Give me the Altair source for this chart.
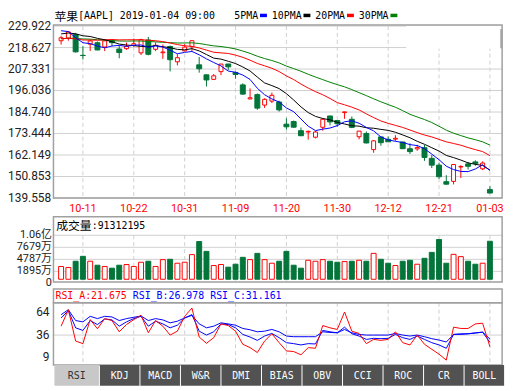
import altair as alt
import pandas as pd

# ---------------- data ----------------
dates = ["10-08","10-09","10-10","10-11","10-12","10-15","10-16","10-17","10-18","10-19",
         "10-22","10-23","10-24","10-25","10-26","10-29","10-30","10-31",
         "11-01","11-02","11-05","11-06","11-07","11-08","11-09","11-12","11-13","11-14","11-15","11-16",
         "11-19","11-20","11-21","11-23","11-26","11-27","11-28","11-29","11-30",
         "12-03","12-04","12-06","12-07","12-10","12-11","12-12","12-13","12-14","12-17","12-18",
         "12-19","12-20","12-21","12-24","12-26","12-27","12-28","12-31","01-02","01-03"]
axis_dates = ["10-11","10-22","10-31","11-09","11-20","11-30","12-12","12-21","01-03"]

opens = [222.21,223.64,225.46,214.52,220.42,221.16,218.93,222.30,217.86,218.06,
         219.79,215.83,222.60,217.71,215.90,219.19,211.15,216.88,219.05,209.55,
         204.30,201.92,205.97,209.98,205.55,199.00,191.63,193.90,188.39,190.50,
         190.00,178.37,179.73,174.94,174.24,171.51,176.73,182.66,180.29,184.46,
         180.95,171.76,173.49,165.00,171.66,170.40,170.49,169.00,165.45,165.38,
         166.00,160.40,156.86,148.15,148.30,155.84,157.50,158.53,154.89,143.98]
highs = [224.80,227.27,226.35,219.50,222.88,221.83,222.99,222.64,219.74,221.26,
         223.36,223.25,224.23,221.38,220.19,219.69,215.18,220.45,222.36,213.65,
         204.39,204.72,210.06,210.12,206.01,199.85,197.18,194.48,191.97,194.97,
         190.70,181.47,180.27,176.60,174.95,174.77,181.29,182.80,180.33,184.94,
         182.39,174.78,174.49,170.09,171.79,171.92,172.57,169.08,168.35,167.53,
         167.45,162.11,158.16,151.55,157.23,156.77,158.52,159.36,158.85,145.72]
lows = [220.20,222.25,216.05,212.32,216.84,217.27,216.76,219.34,213.00,217.43,
        218.94,214.70,214.54,216.75,212.67,206.09,209.27,216.62,216.81,205.43,
        198.17,201.69,204.13,206.75,202.25,193.79,191.45,185.93,186.90,189.46,
        184.99,175.51,176.55,172.10,170.26,170.88,174.93,177.70,177.03,181.21,
        176.27,170.42,168.30,163.33,167.00,169.02,169.55,165.28,162.73,164.39,
        159.09,155.30,149.63,146.59,146.72,150.07,154.55,156.48,154.23,142.00]
closes = [223.77,226.87,216.36,214.45,222.11,217.36,222.15,221.19,216.02,219.31,
          220.65,222.73,215.09,219.80,216.30,212.24,213.30,218.86,222.22,207.48,
          201.59,203.77,209.95,208.49,204.47,194.17,192.23,186.80,191.41,193.53,
          185.86,176.98,176.78,172.29,174.62,174.24,180.94,179.55,178.58,184.82,
          176.69,174.72,168.49,169.60,168.63,169.10,170.95,165.48,163.94,166.07,
          160.89,156.83,150.73,146.83,157.17,156.15,156.23,157.74,157.92,142.19]
volumes_m = [30.7,28.3,43.3,55.1,43.3,33.7,30.7,26.6,33.7,35.4,
             30.7,40.9,43.3,30.7,47.2,48.0,38.5,40.9,59.2,90.7,
             67.0,33.0,35.4,29.0,36.1,52.7,47.2,62.2,47.2,38.5,
             43.3,67.0,33.7,26.6,45.6,43.3,47.2,43.3,40.9,42.5,
             43.3,45.6,43.3,62.2,48.0,38.5,33.0,43.3,45.6,36.1,
             50.4,64.6,95.5,38.5,59.8,54.4,43.3,36.1,38.5,91.312195]
ma5 = [227.48,227.00,223.86,221.15,220.71,219.43,218.49,219.45,219.77,219.21,
       219.86,219.98,218.76,219.52,218.91,217.23,215.35,216.10,216.58,214.82,
       212.69,210.78,209.00,206.26,205.65,204.17,201.86,197.23,193.82,191.63,
       189.97,186.92,184.91,181.09,177.31,174.98,175.77,176.33,177.59,179.63,
       180.12,178.87,176.66,174.86,171.63,170.11,169.35,168.75,167.62,167.11,
       165.47,162.64,159.69,156.27,154.49,153.54,153.42,154.82,157.04,154.05]
ma10 = [225.80,226.26,225.86,224.81,224.45,223.46,222.74,221.65,220.46,219.96,
        219.65,219.23,219.11,219.64,219.06,218.55,217.66,217.43,218.05,216.87,
        214.96,213.07,212.55,211.42,210.24,208.43,206.32,203.12,200.04,198.64,
        197.07,194.39,191.07,187.45,184.47,182.47,181.35,180.62,179.34,178.47,
        177.55,177.32,176.49,176.23,175.63,175.11,174.11,172.71,171.24,169.37,
        167.79,166.00,164.22,161.95,160.80,159.50,158.03,157.26,156.66,154.27]
ma20 = [223.31,223.46,223.22,222.62,222.54,222.51,222.71,222.85,222.65,222.73,
        222.72,222.75,222.48,222.22,221.75,221.00,220.20,219.54,219.25,218.41,
        217.30,216.15,215.83,215.53,214.65,213.49,211.99,210.27,209.04,207.75,
        206.01,203.73,201.81,199.44,197.35,195.45,193.83,191.87,189.69,188.55,
        187.31,185.86,183.78,181.84,180.05,178.79,177.73,176.66,175.29,173.92,
        172.67,171.66,170.36,169.09,168.21,167.31,166.07,164.98,163.95,161.82]
ma30 = [223.24,223.54,223.43,223.15,223.05,222.71,222.50,222.31,222.07,222.01,
        222.09,222.05,221.85,221.63,221.38,221.19,221.02,221.04,221.11,220.77,
        220.13,219.52,219.17,218.62,217.91,216.81,215.58,214.07,212.85,211.82,
        210.56,208.90,207.58,206.17,204.59,203.15,201.78,200.39,199.14,197.99,
        196.53,194.93,193.37,191.70,190.11,188.67,187.26,185.48,183.54,182.16,
        180.80,179.24,177.26,175.21,173.63,172.36,171.16,170.19,169.08,167.37]
rsi_a = [46.9,67.1,28.7,25.5,55.0,43.7,56.2,53.8,40.0,48.9,
         55.0,60.2,38.8,53.8,46.9,36.0,40.8,59.0,69.1,33.6,
         25.9,32.8,49.7,47.7,40.8,24.7,20.6,14.6,28.7,37.6,
         26.7,16.6,15.8,11.8,20.6,19.8,47.7,44.9,42.9,64.3,
         40.8,38.0,25.5,30.7,29.5,30.7,40.0,26.7,23.9,36.0,
         24.7,18.6,12.6,5.3,45.7,44.1,44.1,49.7,50.5,21.675]
rsi_b = [57.0,65.9,44.9,41.7,53.8,48.9,55.8,54.6,46.9,52.2,
         56.2,59.0,46.9,53.0,49.7,44.9,48.1,57.0,61.0,40.8,
         36.0,40.0,49.7,48.9,44.9,36.8,33.6,29.5,34.8,38.0,
         32.8,26.7,25.5,23.9,25.5,25.1,41.7,40.0,38.8,45.7,
         37.6,34.8,30.7,32.0,31.6,32.0,36.8,32.8,30.7,34.8,
         30.7,26.7,23.9,19.8,36.8,37.6,37.6,38.8,39.6,26.978]
rsi_c = [61.0,67.1,53.8,52.2,59.0,56.2,59.0,58.2,53.8,56.2,
         57.8,59.4,53.8,56.2,54.6,51.0,53.0,57.0,60.2,49.7,
         44.9,46.9,51.0,49.7,48.1,44.1,42.5,40.0,40.8,42.9,
         40.0,34.8,34.0,34.0,34.0,34.0,40.0,39.2,38.8,42.9,
         38.8,36.8,36.0,36.0,36.0,36.0,38.0,36.0,34.8,36.0,
         34.0,31.6,29.9,27.5,36.8,36.8,37.6,38.4,39.6,31.161]

price_ticks = [229.922, 218.627, 207.331, 196.036, 184.740, 173.444, 162.149, 150.853, 139.558]
vol_ticks = [105710000, 76790000, 47870000, 18950000, 0]
vol_tick_labels = ["1.06亿", "7679万", "4787万", "1895万", "0"]
rsi_ticks = [64, 36, 9]
title_cn = "苹果"
title_rest = "[AAPL] 2019-01-04 09:00"
ma_names = ["5PMA", "10PMA", "20PMA", "30PMA"]
vol_title = "成交量"
last_volume = 91312195
rsi_names = ["RSI_A", "RSI_B", "RSI_C"]
tabs = ["RSI", "KDJ", "MACD", "W&R", "DMI", "BIAS", "OBV", "CCI", "ROC", "CR", "BOLL"]

# ---------------- styles ----------------
RED = "#ff0000"
GREEN = "#03753a"
MAGREEN = "#008000"
BLUE = "#0000ff"
BLACK = "#000000"
GRID = "#cfcfcf"
FRAME = "#a0a0a0"
MONO = "DejaVu Sans Mono"
CJK = "Noto Sans CJK SC"
LAB = "Roboto, Noto Sans CJK SC"
ma_colors = [BLUE, BLACK, RED, MAGREEN]
rsi_colors = [RED, BLUE, BLUE]

W, H = 454, 365

df = pd.DataFrame({
    "i": list(range(len(dates))), "d": dates,
    "o": opens, "h": highs, "l": lows, "c": closes,
    "v": [v * 1e6 for v in volumes_m],
    "ma5": ma5, "ma10": ma10, "ma20": ma20, "ma30": ma30,
    "ra": rsi_a, "rb": rsi_b, "rc": rsi_c,
})
df["v"] = df["v"].round()
df.loc[df.index[-1], "v"] = last_volume
up_df = df[df.c >= df.o]
dn_df = df[df.c < df.o]
tick_df = df[df.d.isin(axis_dates)]
pt_df = pd.DataFrame({"v": price_ticks, "t": [f"{p:.3f}" for p in price_ticks]})
vt_df = pd.DataFrame({"v": vol_ticks, "t": vol_tick_labels})
rt_df = pd.DataFrame({"v": rsi_ticks, "t": [str(r) for r in rsi_ticks]})

xs = alt.Scale(domain=[-0.372, 60.0], nice=False, zero=False)
X = alt.X("i:Q", scale=xs, axis=None)
main_sc = alt.Scale(domain=[139.558, 229.922], range=[175, 1], nice=False, zero=False)
vol_sc = alt.Scale(domain=[0, 105710000], range=[257.2, 212.7], nice=False, zero=True)
rsi_sc = alt.Scale(domain=[0, 75], range=[343.4, 281.5], nice=False, zero=False)
VOL_BOTTOM = 259.3

one = pd.DataFrame({"k": [0]})


def vrect(x0, x1, y0, y1, **kw):
    return alt.Chart(one).mark_rect(**kw).encode(
        x=alt.value(x0), x2=alt.value(x1), y=alt.value(y0), y2=alt.value(y1))


def vtext(s, x, y, **kw):
    return alt.Chart(pd.DataFrame({"t": [s]})).mark_text(
        align="left", baseline="middle", **kw).encode(
        x=alt.value(x), y=alt.value(y), text="t:N")


L = []
# horizontal grid lines
L.append(alt.Chart(pt_df).mark_rule(color=GRID, strokeWidth=1).encode(
    y=alt.Y("v:Q", scale=main_sc, axis=None), x=alt.value(0), x2=alt.value(W)))
L.append(alt.Chart(vt_df[vt_df.v > 0]).mark_rule(color=GRID, strokeWidth=1).encode(
    y=alt.Y("v:Q", scale=vol_sc, axis=None), x=alt.value(0), x2=alt.value(W)))
L.append(alt.Chart(pd.DataFrame({"v": [36]})).mark_rule(color=GRID, strokeWidth=1).encode(
    y=alt.Y("v:Q", scale=rsi_sc, axis=None), x=alt.value(0), x2=alt.value(W)))
# vertical dashed grid lines
for y0, y1 in [(1, 174), (212.7, 259), (281, 344)]:
    L.append(alt.Chart(tick_df).mark_rule(color=GRID, strokeWidth=1, strokeDash=[4, 3]).encode(
        x=X, y=alt.value(y0), y2=alt.value(y1)))
# blank box at top right of the price panel
L.append(vrect(357, 453, 1, 24, color="white"))
L.append(vrect(452, 454.5, 4, 23.5, color="#b0b0b0"))
# frames
for y0, y1 in [(0, 175), (194, 260), (267, 281), (281, 344)]:
    L.append(vrect(0, W, y0, y1, filled=False, color=FRAME, strokeWidth=1.5))

# candles
L.append(alt.Chart(up_df).mark_rule(color=RED, strokeWidth=1).encode(
    x=X, y=alt.Y("l:Q", scale=main_sc, axis=None), y2="h:Q"))
L.append(alt.Chart(dn_df).mark_rule(color=GREEN, strokeWidth=1).encode(
    x=X, y=alt.Y("l:Q", scale=main_sc, axis=None), y2="h:Q"))
L.append(alt.Chart(up_df).mark_bar(size=4, fill="white", stroke=RED, strokeWidth=1).encode(
    x=X, y=alt.Y("o:Q", scale=main_sc, axis=None), y2="c:Q"))
L.append(alt.Chart(dn_df).mark_bar(size=5, fill=GREEN, stroke=GREEN, strokeWidth=1).encode(
    x=X, y=alt.Y("o:Q", scale=main_sc, axis=None), y2="c:Q"))
# moving averages
for f, col in zip(["ma30", "ma20", "ma10", "ma5"], [MAGREEN, RED, BLACK, BLUE]):
    L.append(alt.Chart(df).mark_line(color=col, strokeWidth=1).encode(
        x=X, y=alt.Y(f + ":Q", scale=main_sc, axis=None)))

# volume bars (drawn down to the panel floor)
L.append(alt.Chart(up_df).mark_bar(size=5, fill="white", stroke=RED, strokeWidth=1).encode(
    x=X, y=alt.Y("v:Q", scale=vol_sc, axis=None), y2=alt.value(VOL_BOTTOM)))
L.append(alt.Chart(dn_df).mark_bar(size=5, fill=GREEN, stroke=GREEN, strokeWidth=1).encode(
    x=X, y=alt.Y("v:Q", scale=vol_sc, axis=None), y2=alt.value(VOL_BOTTOM)))

# RSI lines
for f, col in zip(["rc", "rb", "ra"], [BLUE, BLUE, RED]):
    L.append(alt.Chart(df).mark_line(color=col, strokeWidth=1).encode(
        x=X, y=alt.Y(f + ":Q", scale=rsi_sc, axis=None)))

# axis labels
L.append(alt.Chart(pt_df).mark_text(align="right", baseline="middle", font=LAB, fontSize=12, color="#222").encode(
    y=alt.Y("v:Q", scale=main_sc, axis=None), x=alt.value(-2.3), text="t:N"))
L.append(alt.Chart(vt_df[vt_df.v > 0]).mark_text(align="right", baseline="middle", font=LAB, fontSize=11, color="#222").encode(
    y=alt.Y("v:Q", scale=vol_sc, axis=None), x=alt.value(-1.5), text="t:N"))
L.append(alt.Chart(vt_df[vt_df.v == 0]).mark_text(align="right", baseline="middle", font=LAB, fontSize=11, color="#222", dy=4).encode(
    y=alt.Y("v:Q", scale=vol_sc, axis=None), x=alt.value(-1.5), text="t:N"))
L.append(alt.Chart(rt_df).mark_text(align="right", baseline="middle", font=LAB, fontSize=12, color="#222").encode(
    y=alt.Y("v:Q", scale=rsi_sc, axis=None), x=alt.value(-4), text="t:N"))
L.append(alt.Chart(tick_df).mark_text(align="center", baseline="middle", font=LAB, fontSize=11, color=RED).encode(
    x=X, y=alt.value(186.5), text="d:N"))

# title row with MA legend
L.append(vtext(title_cn, 1, -8.5, font=CJK, fontSize=12, color="#000"))
L.append(vtext(title_rest, 25, -9.5, font=MONO, fontSize=10, color="#000"))
px = 183
for name, col in zip(ma_names, ma_colors):
    L.append(vtext(name, px, -9.5, font=MONO, fontSize=10, color="#000"))
    sx = px + 6 * len(name) + 2
    L.append(vrect(sx, sx + 7, -11.5, -8, color=col))
    px = sx + 12

# volume header
L.append(vtext(vol_title, 2.7, 203, font=CJK, fontSize=12, color="#000"))
L.append(vtext(f":{last_volume}", 38.7, 203, font=MONO, fontSize=10, color="#000"))

# RSI header
rsi_last = [rsi_a[-1], rsi_b[-1], rsi_c[-1]]
for k, (nm, val, col) in enumerate(zip(rsi_names, rsi_last, rsi_colors)):
    L.append(vtext(f"{nm}:{val:.3f}", 2 + 78.3 * k, 274.5, font=MONO, fontSize=10, color=col))

# indicator tabs
for k, nm in enumerate(tabs):
    if k == 0:
        x0, x1, bg, fg = 1, 46, "#c8c8c8", "#333333"
    else:
        x0 = 47 + 41 * (k - 1)
        x1, bg, fg = x0 + 40, "#525252", "#ffffff"
    L.append(vrect(x0, x1, 344, 365, color=bg))
    L.append(alt.Chart(pd.DataFrame({"t": [nm]})).mark_text(
        align="center", baseline="middle", font=MONO, fontSize=10, color=fg).encode(
        x=alt.value((x0 + x1) / 2), y=alt.value(355), text="t:N"))

chart = alt.layer(*L).resolve_scale(y="independent").properties(
    width=W, height=H,
    padding={"left": 46, "top": 15, "right": 10, "bottom": 3},
    autosize=alt.AutoSizeParams(type="none"),
    background="white",
).configure_view(strokeWidth=0)

chart.save("out.html", embed_options={"renderer": "svg", "actions": False})
